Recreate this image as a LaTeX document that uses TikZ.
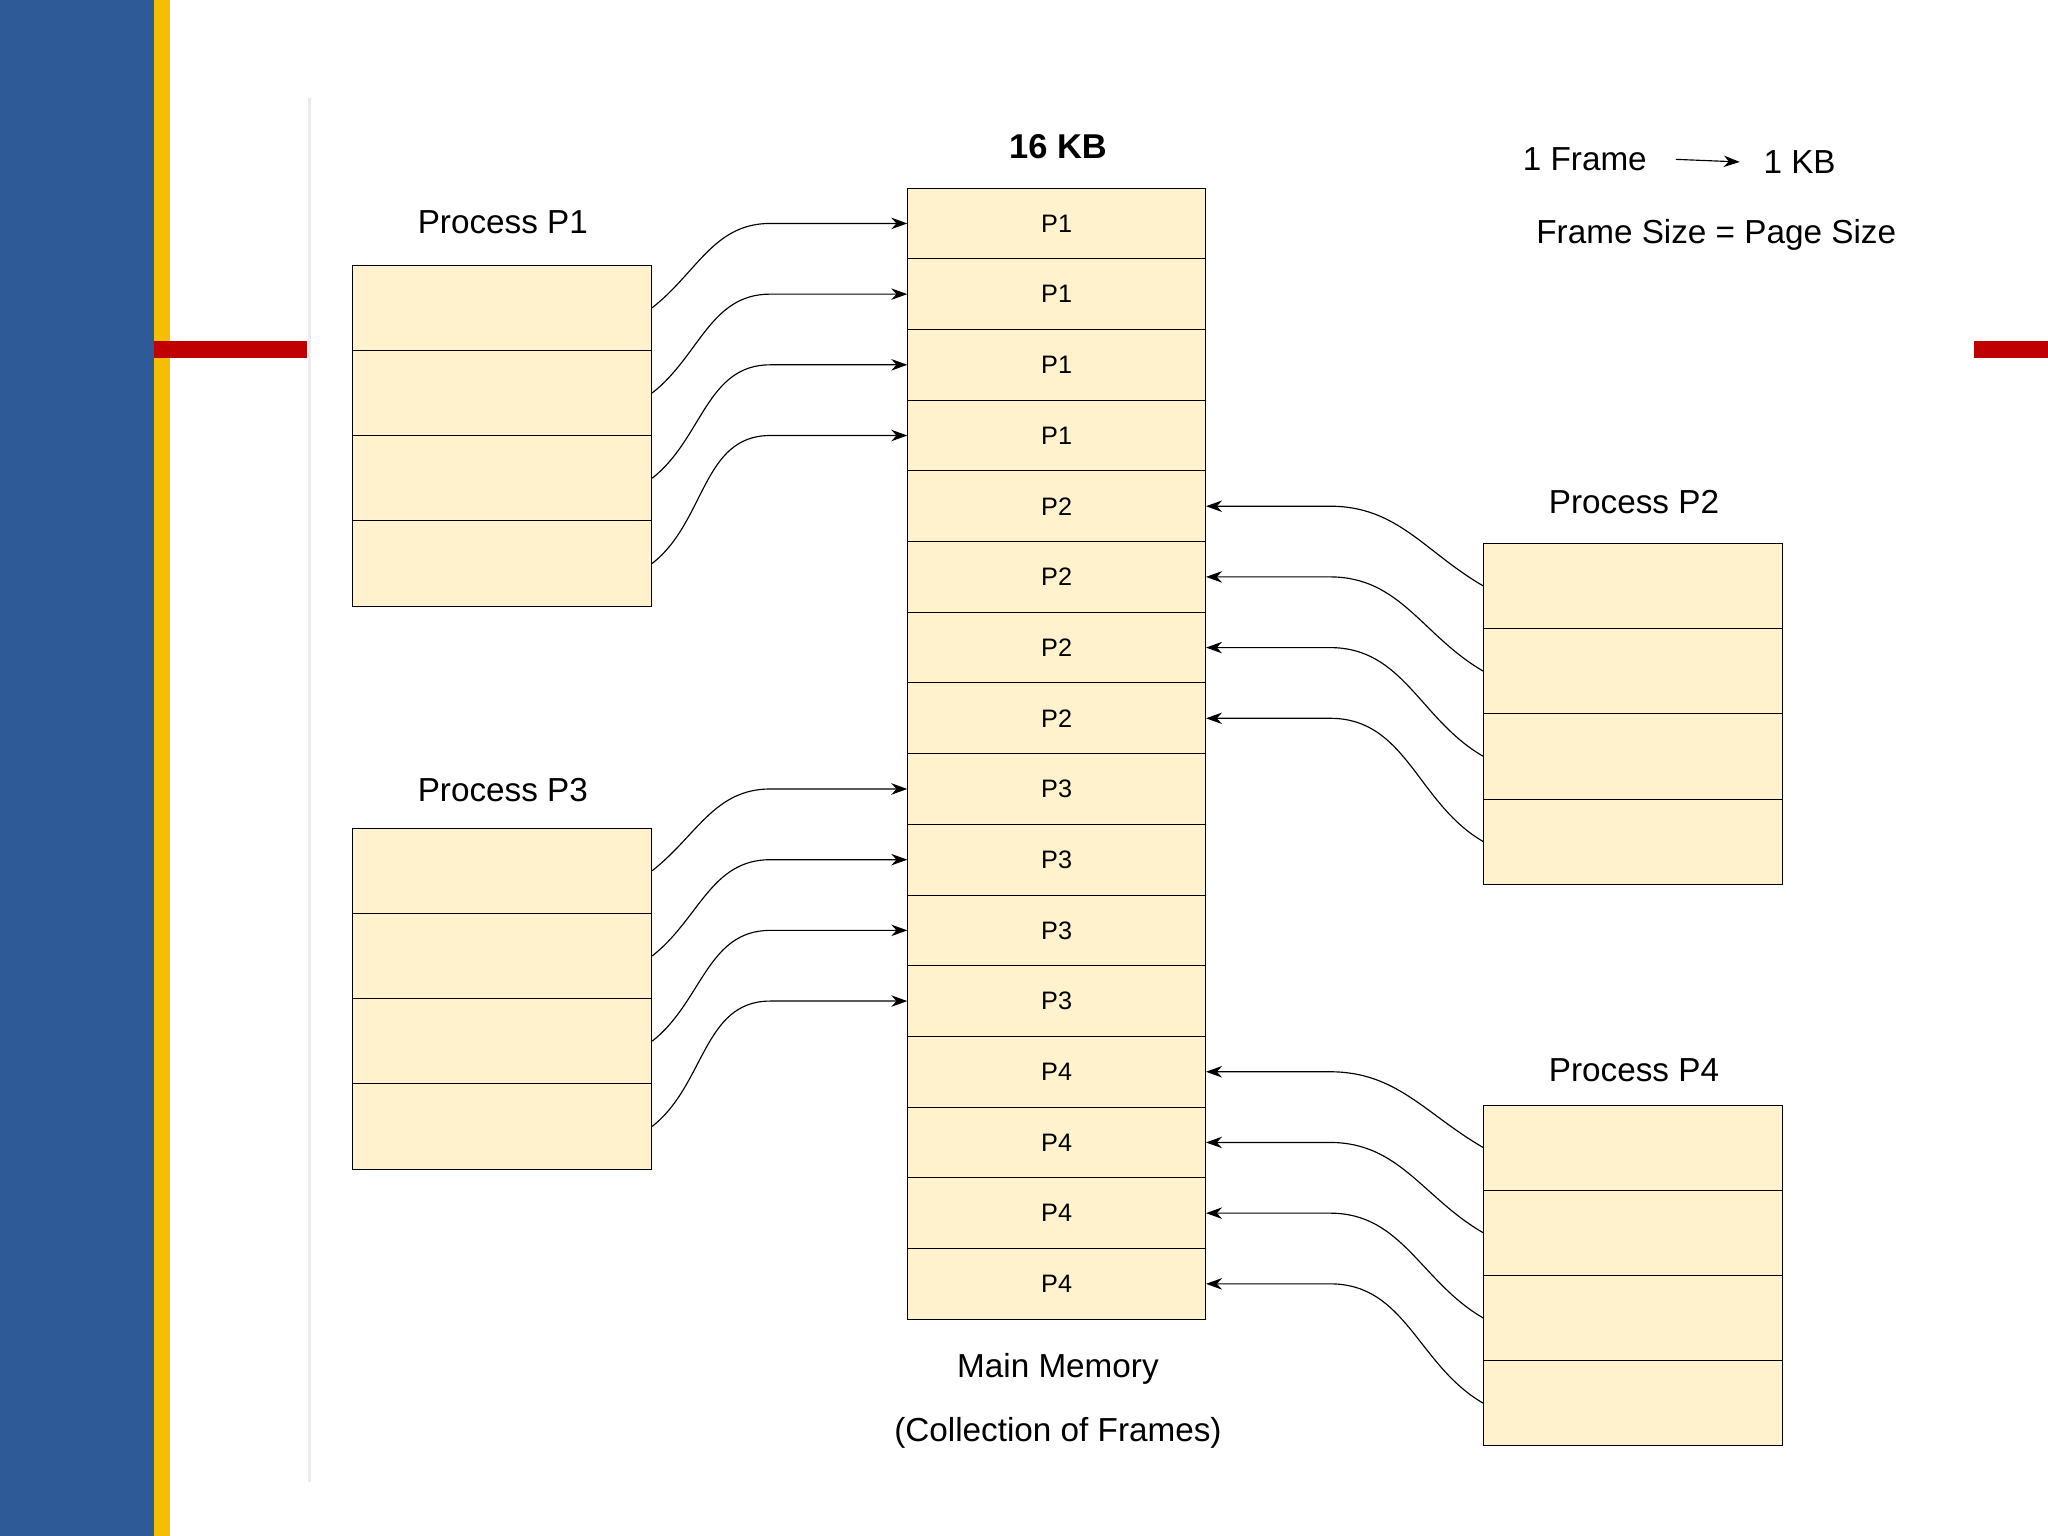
\documentclass[tikz,border=0pt]{standalone}
\usepackage{fontspec}
\setmainfont{Liberation Sans}
\usetikzlibrary{calc,arrows.meta}
\definecolor{cell}{HTML}{FFF2CC}
\definecolor{band}{HTML}{2E5A97}
\definecolor{gold}{HTML}{F5BE00}
\definecolor{redb}{HTML}{C00000}
\begin{document}
\begin{tikzpicture}[x=0.02cm,y=-0.02cm,
  mem/.style={draw=black,fill=cell,minimum width=4.56cm,minimum height=1.0825cm,inner sep=0,font=\fontsize{11}{13}\selectfont},
  prc/.style={draw=black,fill=cell,minimum width=4.58cm,minimum height=1.305cm,inner sep=0},
  lbl/.style={font=\fontsize{14.5}{17}\selectfont},
  conn/.style={-{Stealth[length=7pt,width=5pt]},line width=0.5pt}]
\useasboundingbox (0,0) rectangle (1568,1176);
\fill[band] (0,0) rectangle (118,1176);
\fill[gold] (118,0) rectangle (130,1176);
\fill[redb] (118,261) rectangle (235,274);
\fill[redb] (1511,261) rectangle (1568,274);
\draw[black!8,line width=1pt] (237,75) -- (237,1135);
% memory
\foreach \i/\t in {1/P1,2/P1,3/P1,4/P1,5/P2,6/P2,7/P2,8/P2,9/P3,10/P3,11/P3,12/P3,13/P4,14/P4,15/P4,16/P4}
  \node[mem] (m\i) at (809,{144+54.125*(\i-0.5)}) {\t};
% processes
\foreach \p/\x/\y in {a/384.5/203,c/384.5/634,b/1250.5/416,d/1250.5/846}
  \foreach \k in {1,2,3,4}
    \node[prc] (\p\k) at (\x,{\y+65.25*(\k-0.5)}) {};
\node[lbl] (tp1) at (385,170) {Process P1};
\node[lbl] (tp3) at (385,605) {Process P3};
\node[lbl] (tp2) at (1251,384) {Process P2};
\node[lbl] (tp4) at (1251,819) {Process P4};
\node[font=\bfseries\fontsize{15}{18}\selectfont] (kb) at (810,112) {16 KB};
\node[lbl,anchor=east] (fr) at (1267,122) {1 Frame};
\node[lbl,anchor=west] (one) at (1344,124) {1 KB};
\draw[conn] (fr.east)++(16,0) coordinate (fa) -- ($(one.west)+(-12,0)$) coordinate (fb);
\node[lbl] (fs) at (1314,180) {Frame Size = Page Size};
\node[lbl] (mm) at (810,1048) {Main Memory};
\node[lbl] (cf) at (810,1097) {(Collection of Frames)};
% connectors
\foreach \k/\m in {1/1,2/2,3/3,4/4}
  \draw[conn] (a\k.east) to[out=38,in=180] ($(m\m.west)+(-105,0)$) -- (m\m.west);
\foreach \k/\m in {1/9,2/10,3/11,4/12}
  \draw[conn] (c\k.east) to[out=38,in=180] ($(m\m.west)+(-105,0)$) -- (m\m.west);
\foreach \k/\m in {1/5,2/6,3/7,4/8}
  \draw[conn] (b\k.west) to[out=150,in=0] ($(m\m.east)+(95,0)$) -- (m\m.east);
\foreach \k/\m in {1/13,2/14,3/15,4/16}
  \draw[conn] (d\k.west) to[out=150,in=0] ($(m\m.east)+(95,0)$) -- (m\m.east);
\end{tikzpicture}
\end{document}
